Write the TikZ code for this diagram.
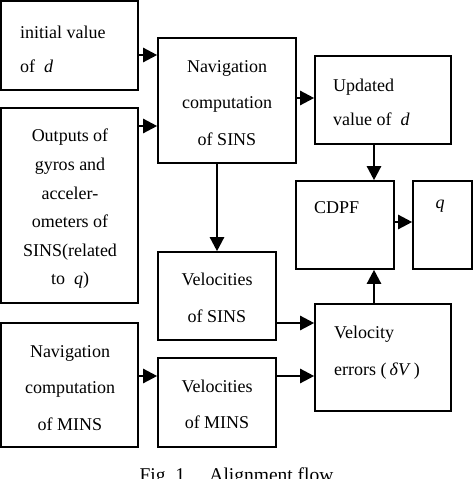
\documentclass[tikz,border=0pt]{standalone}
\usepackage{fontspec}
\setmainfont{Liberation Serif}
\usetikzlibrary{arrows.meta}
\begin{document}
\begin{tikzpicture}[x=1pt,y=-1pt,
  box/.style={draw, line width=1.6pt, inner sep=0pt},
  arr/.style={line width=2.4pt, -{Triangle[length=14pt,width=14pt]}},
  txt/.style={inner sep=0pt, font=\fontsize{18}{#1}\selectfont},
  txt/.default=34]
\useasboundingbox (0,0) rectangle (474,479);
% boxes
\node[box, minimum width=137pt, minimum height=89pt]  (b1)    at (69.5,45.5) {};
\node[box, minimum width=137pt, minimum height=195pt] (b2)    at (69.5,205.5) {};
\node[box, minimum width=137pt, minimum height=124pt] (b3)    at (69.5,385) {};
\node[box, minimum width=138pt, minimum height=125pt] (nsins) at (227,100.5) {};
\node[box, minimum width=118pt, minimum height=88pt]  (vs)    at (217,296) {};
\node[box, minimum width=118pt, minimum height=89pt]  (vm)    at (217,402.5) {};
\node[box, minimum width=136pt, minimum height=88pt]  (upd)   at (383,100) {};
\node[box, minimum width=98pt,  minimum height=88pt]  (cdpf)  at (345,225) {};
\node[box, minimum width=59pt,  minimum height=88pt]  (qb)    at (442.5,225) {};
\node[box, minimum width=136pt, minimum height=107pt] (ve)    at (383,357.5) {};
% texts
\node[txt, anchor=north west, align=left] (t1) at (20,26) {initial value\\of \ \textit{d}};
\node[txt=28.6, anchor=north, align=center] (t2) at (70,129) {Outputs of\\gyros and\\acceler-\\ometers of\\SINS(related\\to \ \textit{q})};
\node[txt=36.5, anchor=north, align=center] (t3) at (70,345) {Navigation\\computation\\of MINS};
\node[txt=36.5, anchor=north, align=center] (t4) at (227,60) {Navigation\\computation\\of SINS};
\node[txt, anchor=north west, align=left] (t5) at (333,79) {Updated\\value of \ \textit{d}};
\node[txt, anchor=north west] (t6) at (314,201) {CDPF};
\node[txt, anchor=base] (t7) at (440,208) {\textit{q}};
\node[txt=37, anchor=north west, align=left] (t8) at (334,326) {Velocity\\errors (\,\textit{δV}\,)};
\node[txt=37, anchor=north, align=center] (t9) at (217,273) {Velocities\\of SINS};
\node[txt=36, anchor=north, align=center] (t10) at (217,380) {Velocities\\of MINS};
\node[inner sep=0pt, anchor=base, font=\fontsize{19.5}{22}\selectfont] (cap) at (236.5,481) {Fig.\ 1\quad\ Alignment\ flow};
% arrows
\draw[arr] (b1.east |- 0,55) -- (nsins.west |- 0,55);
\draw[arr] (b2.east |- 0,126) -- (nsins.west |- 0,126);
\draw[arr] (vs.north |- nsins.south) -- (vs.north);
\draw[arr] (nsins.east |- 0,98) -- (upd.west |- 0,98);
\draw[arr] (upd.south -| 374,0) -- (cdpf.north -| 374,0);
\draw[arr] (cdpf.east |- 0,222) -- (qb.west |- 0,222);
\draw[arr] (ve.north -| 374,0) -- (cdpf.south -| 374,0);
\draw[arr] (vs.east |- 0,323) -- (ve.west |- 0,323);
\draw[arr] (vm.east |- 0,376) -- (ve.west |- 0,376);
\draw[arr] (b3.east |- 0,376) -- (vm.west |- 0,376);
\end{tikzpicture}
\end{document}
